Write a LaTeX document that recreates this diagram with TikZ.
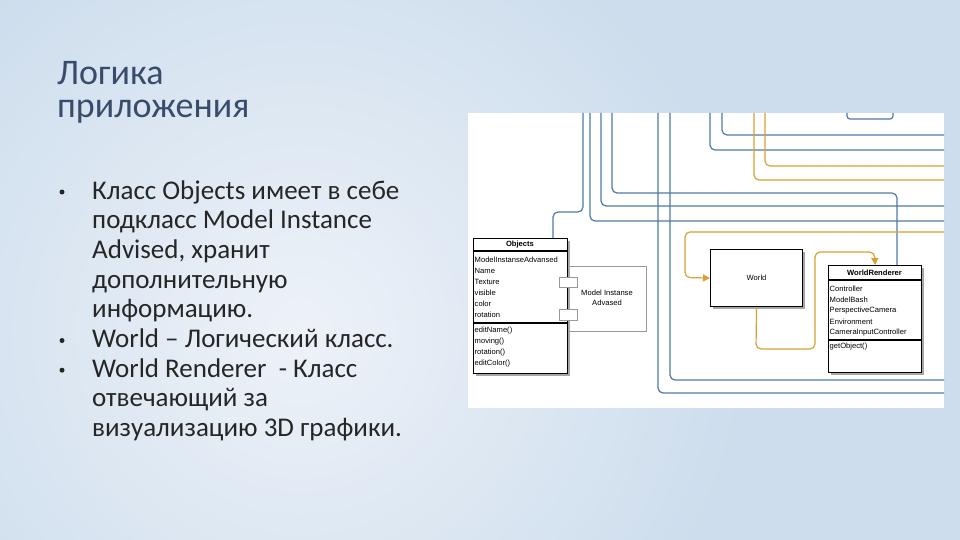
\documentclass[tikz,border=0pt]{standalone}
\usepackage{fontspec}
\setmainfont{Carlito}
\newfontfamily\umlfont{Liberation Sans}
\usepackage{tikz}
\usetikzlibrary{arrows.meta, positioning, shadows}

\definecolor{slidebg}{RGB}{205,221,237}
\definecolor{slideglow}{RGB}{237,242,248}
\definecolor{titleblue}{RGB}{58,76,108}
\definecolor{bodygray}{RGB}{38,38,38}
\definecolor{wireblue}{RGB}{78,122,166}
\definecolor{wireorange}{RGB}{218,160,52}

\begin{document}
\begin{tikzpicture}[x=1pt, y=-1pt,
  classbox/.style={rectangle, draw=black, line width=1.3pt, fill=white, inner sep=0pt, anchor=north west,
    drop shadow={shadow xshift=2pt, shadow yshift=-2pt, fill=black!35, opacity=1}},
  compbox/.style={rectangle, draw=black!40, line width=0.6pt, fill=white, inner sep=0pt, anchor=north west},
  umltxt/.style={font=\umlfont\fontsize{7.6}{9.5}\selectfont, inner sep=0pt, anchor=west},
  umlhead/.style={font=\umlfont\bfseries\fontsize{7.6}{9.5}\selectfont, inner sep=0pt},
  bluewire/.style={wireblue, line width=1.2pt, rounded corners=5pt},
  orangewire/.style={wireorange, line width=1.2pt, rounded corners=5pt},
  flow/.style={orangewire, -{Triangle[length=7pt, width=7pt]}},
  titleline/.style={font=\fontsize{36}{40}\selectfont, titleblue, inner sep=0pt, anchor=base west},
  bodyline/.style={font=\fontsize{27}{30}\selectfont, bodygray, inner sep=0pt, anchor=base west},
  bulletdot/.style={circle, fill=bodygray, minimum size=5pt, inner sep=0pt}
]
\useasboundingbox (0,0) rectangle (960,540);

%  : -- slide background  : --
\fill[slidebg] (0,0) rectangle (960,540);
\shade[inner color=slideglow, outer color=slidebg] (300,330) circle (450);

%  : -- title and bullet text  : --
\node[titleline] (title1) at (57,85) {Логика};
\node[titleline] (title2) at (57,118) {приложения};

\foreach \i/\t in {1/{Класс Objects имеет в себе}, 2/{подкласс Model Instance}, 3/{Advised, хранит},
  4/{дополнительную}, 5/{информацию.}, 6/{World – Логический класс.}, 7/{World Renderer~ - Класс},
  8/{отвечающий за}, 9/{визуализацию 3D графики.}} {
  \node[bodyline] (body\i) at (92, {199+29.7*(\i-1)}) {\t};
}
\foreach \i in {1,6,7} {
  \node[bulletdot] (bullet\i) at (62, {192+29.7*(\i-1)}) {};
}

%  : -- diagram panel  : --
\node[rectangle, fill=white, inner sep=0pt, minimum width=476pt, minimum height=295pt, anchor=north west] (panel) at (468,113) {};

%  : -- wires leaving the panel  : --
\draw[bluewire] (583,113) -- (583,212) -- (553,212) -- (553,238);
\draw[bluewire] (590,113) -- (590,221) -- (944,221);
\draw[bluewire] (601,113) -- (601,206) -- (944,206);
\draw[bluewire] (612,113) -- (612,193) -- (897,193) -- (897,265);
\draw[bluewire] (658,113) -- (658,393) -- (944,393);
\draw[bluewire] (670,113) -- (670,380) -- (944,380);
\draw[bluewire] (710,113) -- (710,150) -- (944,150);
\draw[bluewire] (722,113) -- (722,135) -- (944,135);
\draw[bluewire, rounded corners=3pt] (847,113) -- (847,119) -- (893,119) -- (893,113);
\draw[orangewire] (754,113) -- (754,180) -- (944,180);
\draw[orangewire] (765,113) -- (765,166) -- (944,166);

%  : -- Objects class  : --
\node[compbox, minimum width=78pt, minimum height=65pt] (component) at (568,266) {};
\node[umltxt, anchor=center, align=center] (comptext) at (607,298) {Model Instanse\\Advased};
\node[classbox, minimum width=94pt, minimum height=135pt] (objects) at (473,238) {};
\node[umlhead] (objname) at (520,244.5) {Objects};
\draw[line width=1.1pt] (473,251) -- (567,251);
\draw[line width=1.1pt] (473,323) -- (567,323);
\foreach \i/\n in {1/ModelInstanseAdvansed, 2/Name, 3/Texture, 4/visible, 5/color, 6/rotation} {
  \node[umltxt] (objattr\i) at (474.5, {249+11*\i}) {\n};
}
\foreach \i/\n in {1/editName(), 2/moving(), 3/rotation(), 4/editColor()} {
  \node[umltxt] (objop\i) at (474.5, {320+11*\i}) {\n};
}
\node[compbox, minimum width=18pt, minimum height=10pt] (port1) at (559,277) {};
\node[compbox, minimum width=18pt, minimum height=11pt] (port2) at (559,309) {};

%  : -- World and WorldRenderer  : --
\node[classbox, line width=1.1pt, minimum width=92pt, minimum height=57pt] (world) at (710,249) {};
\node[umltxt, anchor=center] (worldname) at (world.center) {World};

\node[classbox, minimum width=93pt, minimum height=107pt] (worldrend) at (828,265) {};
\node[umlhead] (rendname) at (874.5,272.5) {WorldRenderer};
\draw[line width=1.1pt] (828,280) -- (921,280);
\draw[line width=1.1pt] (828,340) -- (921,340);
\foreach \i/\n in {1/Controller, 2/ModelBash, 3/PerspectiveCamera, 4/Environment, 5/CameraInputController} {
  \node[umltxt] (rendattr\i) at (829.5, {278+11*\i}) {\n};
}
\node[umltxt] (rendop1) at (829.5,347) {getObject()};

%  : -- orange flow into World and on to the renderer  : --
\draw[flow] (944,232) -- (685,232) -- (685,277.5) -- (world.west);
\draw[flow] (world.south) -- (756,349) -- (815,349) -- (815,252) -- (874.5,252) -- (worldrend.north);

\end{tikzpicture}
\end{document}
